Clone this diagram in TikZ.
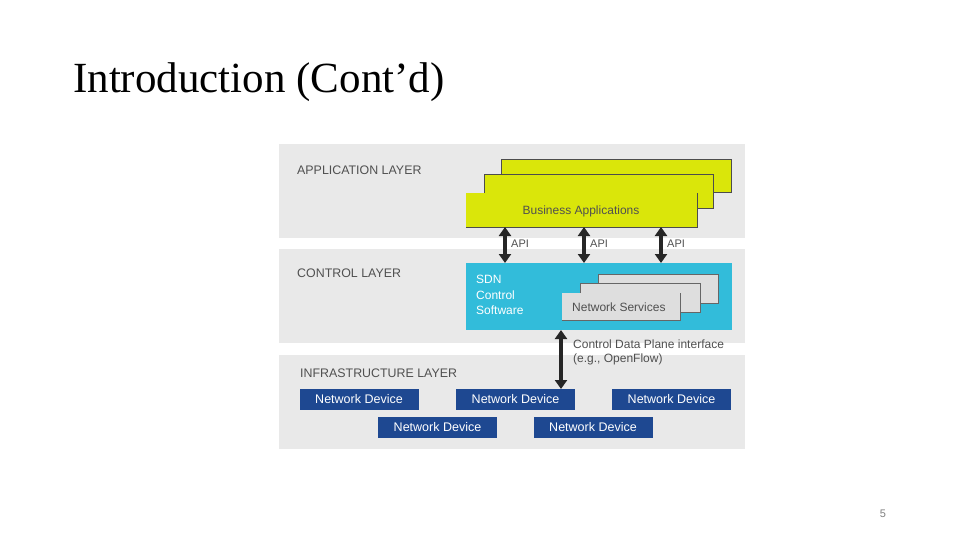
\documentclass[tikz,border=0pt]{standalone}
\usepackage{fontspec}
\setmainfont{Liberation Serif}
\newfontfamily\sans{Liberation Sans}
\usetikzlibrary{arrows.meta}
\definecolor{layer}{RGB}{233,233,233}
\definecolor{appy}{RGB}{218,230,10}
\definecolor{sdn}{RGB}{50,188,218}
\definecolor{srv}{RGB}{222,222,222}
\definecolor{dev}{RGB}{30,72,145}
\definecolor{txt}{RGB}{80,80,80}
\begin{document}
\begin{tikzpicture}[x=1pt,y=-1pt,
  layerbox/.style={fill=layer, draw=none},
  lbl/.style={font=\sans\fontsize{12.4}{14}\selectfont, text=txt, anchor=west, inner sep=0},
  devbox/.style={fill=dev, draw=none, text=white, font=\sans\fontsize{12.5}{14}\selectfont, minimum width=119pt, minimum height=21pt, inner sep=0},
  dbl/.style={{Triangle[width=12pt,length=9pt]}-{Triangle[width=12pt,length=9pt]}, line width=3.5pt, black!85},
  small/.style={font=\sans\fontsize{12}{14}\selectfont, text=txt, anchor=west, inner sep=0},
  edge/.style={line width=0.6pt}
]
\useasboundingbox (0,0) rectangle (960,540);
\fill[white] (0,0) rectangle (960,540);
\node[anchor=west, inner sep=0, font=\fontsize{43}{48}\selectfont] (title) at (73,82) {Introduction (Cont’d)};
\node[font=\sans\fontsize{11}{13}\selectfont, text=gray, inner sep=0] (pg) at (883,514) {5};
% layers
\fill[layerbox] (279,144) rectangle (745,238);
\fill[layerbox] (279,249) rectangle (745,343);
\fill[layerbox] (279,355) rectangle (745,449);
\node[lbl] (la) at (297,170) {APPLICATION LAYER};
\node[lbl] (lc) at (297,273) {CONTROL LAYER};
\node[lbl] (li) at (300,373) {INFRASTRUCTURE LAYER};
% applications
\fill[appy] (501,159) rectangle (731,192);
\draw[edge, black!70] (501,174) -- (501,159) -- (731,159) -- (731,192) -- (713,192);
\fill[appy] (484,174) rectangle (713,208);
\draw[edge, black!70] (484,193) -- (484,174) -- (713,174) -- (713,208) -- (697,208);
\fill[appy] (466,193) rectangle (697,227);
\draw[edge, black!70] (697,193) -- (697,227) -- (466,227);
\node[font=\sans\fontsize{12}{14}\selectfont, text=txt, inner sep=0] (ba) at (581,211) {Business Applications};
\coordinate (a1) at (505,227); \coordinate (a2) at (584,227); \coordinate (a3) at (661,227);
% sdn
\node[fill=sdn, minimum width=266pt, minimum height=67pt, anchor=north west, inner sep=0] (sdn) at (466,263) {};
\node[anchor=north west, align=left, text=white, font=\sans\fontsize{12}{15.5}\selectfont, inner sep=0] (sdnt) at (476,275) {SDN\\Control\\Software};
\fill[srv] (598,274) rectangle (718,303);
\draw[edge, black!60] (598,283) -- (598,274) -- (718,274) -- (718,303) -- (700,303);
\fill[srv] (580,283) rectangle (700,312);
\draw[edge, black!60] (580,293) -- (580,283) -- (700,283) -- (700,312) -- (680,312);
\node[fill=srv, minimum width=118pt, minimum height=27pt, anchor=north west, inner sep=0] (ns) at (562,293) {};
\draw[edge, black!60] (ns.north east) -- (ns.south east) -- (ns.south west);
\node[small] (nst) at (572,307) {Network Services};
\coordinate (c1) at (505,263); \coordinate (c2) at (584,263); \coordinate (c3) at (661,263);
\draw[dbl] (a1) -- (c1); \draw[dbl] (a2) -- (c2); \draw[dbl] (a3) -- (c3);
\node[small, font=\sans\fontsize{11}{13}\selectfont] at (511,244) {API};
\node[small, font=\sans\fontsize{11}{13}\selectfont] at (590,244) {API};
\node[small, font=\sans\fontsize{11}{13}\selectfont] at (667,244) {API};
% devices
\node[devbox] (d1) at (359,399.5) {Network Device};
\node[devbox] (d2) at (515.5,399.5) {Network Device};
\node[devbox] (d3) at (671.5,399.5) {Network Device};
\node[devbox] (d4) at (437.5,427.5) {Network Device};
\node[devbox] (d5) at (593,427.5) {Network Device};
\coordinate (s1) at (561,330); \coordinate (s2) at (561,389);
\draw[dbl] (s1) -- (s2);
\node[small, align=left, font=\sans\fontsize{12}{14}\selectfont] (cdp) at (573,352) {Control Data Plane interface\\(e.g., OpenFlow)};
\end{tikzpicture}
\end{document}
